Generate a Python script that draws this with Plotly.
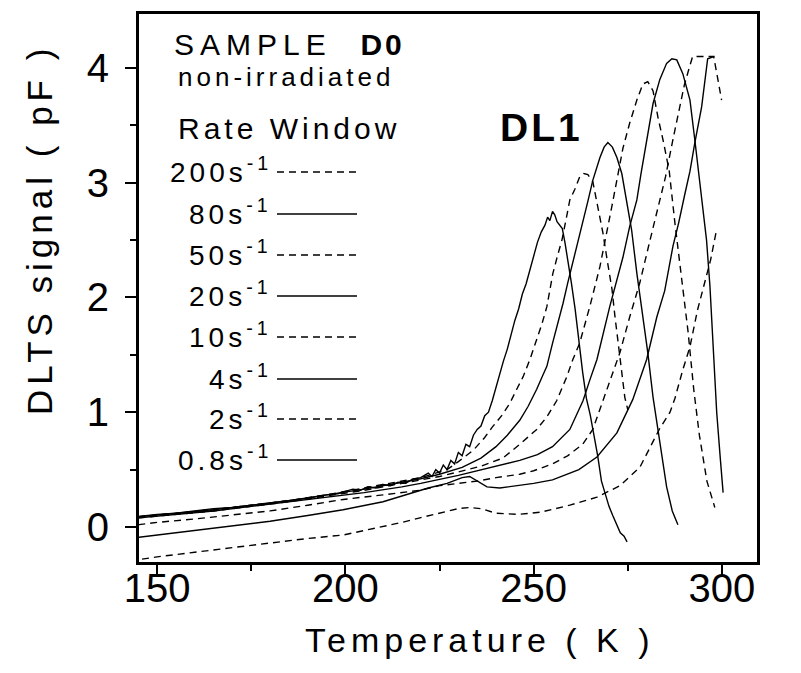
import plotly.graph_objects as go

# ---------------- data ----------------
rate_labels = ["200", "80", "50", "20", "10", "4", "2", "0.8"]
rate_dash = ["dash", "solid", "dash", "solid", "dash", "solid", "dash", "solid"]

T_08 = [145, 150, 155, 160, 165, 170, 175, 180, 185, 190, 195, 198, 200, 202, 204, 206, 208, 210, 212, 214,
        216, 218, 220, 222, 223, 224, 225, 226, 227, 228, 229, 230, 231, 232, 233, 234, 235, 236, 237, 238,
        239, 240, 241, 242, 243, 244, 245, 246, 247, 248, 249, 250, 251, 252, 253, 253.7, 254.3, 255, 255.6,
        256.2, 257, 257.6, 258.3, 259, 260, 261, 262, 263, 264, 265, 266, 267, 268, 269, 270, 271, 272, 273,
        274, 274.8]
V_08 = [0.09, 0.11, 0.12, 0.14, 0.16, 0.17, 0.19, 0.21, 0.23, 0.25, 0.28, 0.29, 0.31, 0.33, 0.32, 0.35, 0.34,
        0.37, 0.36, 0.39, 0.38, 0.42, 0.43, 0.47, 0.44, 0.50, 0.47, 0.54, 0.50, 0.58, 0.55, 0.65, 0.62, 0.72,
        0.70, 0.80, 0.85, 0.88, 0.97, 1.00, 1.10, 1.22, 1.35, 1.45, 1.55, 1.68, 1.80, 1.90, 2.03, 2.12, 2.24,
        2.37, 2.48, 2.57, 2.63, 2.70, 2.67, 2.75, 2.72, 2.66, 2.63, 2.60, 2.48, 2.35, 2.13, 1.90, 1.62, 1.35,
        1.12, 0.98, 0.80, 0.62, 0.40, 0.28, 0.18, 0.10, 0.02, -0.05, -0.08, -0.13]

T_2 = [145, 155, 165, 175, 185, 195, 205, 215, 220, 224, 227, 230, 234, 237, 239, 241.5, 243.7, 245.5, 247.2,
       249, 250.8, 252.2, 253.5, 255.1, 256.3, 257.5, 258.6, 259.6, 260.9, 262.2, 263.3, 264.4, 265.7, 267,
       268.4, 269.4, 270.8, 271.6, 272.9, 274.2, 275]
V_2 = [0.09, 0.12, 0.15, 0.19, 0.23, 0.28, 0.34, 0.40, 0.43, 0.47, 0.50, 0.57, 0.67, 0.78, 0.87, 0.97, 1.08,
       1.20, 1.31, 1.46, 1.63, 1.77, 1.92, 2.21, 2.36, 2.50, 2.68, 2.85, 2.94, 3.05, 3.08, 3.07, 3.01, 2.79,
       2.56, 2.35, 2.07, 1.83, 1.48, 1.13, 1.02]

T_4 = [145, 155, 165, 175, 185, 195, 205, 215, 220, 225, 231, 236, 240, 243, 246.3, 248.5, 250.8, 252.4, 253.5,
       255, 256.5, 257.8, 259, 260.4, 261.8, 263.1, 264.4, 265.7, 266.7, 267.6, 268.7, 269.7, 270.9, 272.1,
       273.4, 274.7, 276, 277.4, 279, 280.3, 281.7, 283.5, 285.3, 286.8, 288.3]
V_4 = [0.09, 0.12, 0.15, 0.19, 0.23, 0.28, 0.33, 0.39, 0.42, 0.46, 0.52, 0.60, 0.70, 0.80, 0.93, 1.05, 1.20,
       1.32, 1.40, 1.60, 1.78, 1.95, 2.12, 2.30, 2.48, 2.65, 2.84, 3.02, 3.13, 3.22, 3.31, 3.35, 3.31, 3.22,
       3.08, 2.82, 2.59, 2.21, 1.83, 1.52, 1.13, 0.76, 0.35, 0.14, 0.02]

T_10 = [145, 155, 165, 175, 185, 195, 205, 215, 220, 225, 230, 236, 241.8, 246.3, 250.8, 253.5, 256.1, 258.8,
        260.4, 262.2, 264.9, 267.6, 270.8, 273.7, 275.5, 277.4, 279, 280.3, 281.7, 283, 284.5, 286, 287.5, 289,
        291, 292.5, 294, 296, 298.1]
V_10 = [0.08, 0.11, 0.14, 0.18, 0.22, 0.27, 0.32, 0.38, 0.41, 0.44, 0.48, 0.53, 0.60, 0.72, 0.85, 0.96, 1.10,
        1.31, 1.46, 1.60, 1.92, 2.27, 2.80, 3.30, 3.52, 3.72, 3.86, 3.88, 3.80, 3.57, 3.35, 3.10, 2.65, 2.22,
        1.70, 1.20, 0.80, 0.40, 0.17]

T_20 = [145, 155, 165, 175, 185, 195, 205, 215, 220, 230, 237.6, 246.3, 251, 255, 259.6, 263.1, 264.9, 266.8,
        270.2, 273.7, 275.5, 277.4, 278.5, 280, 281.7, 283.5, 285.3, 286.7, 288, 289.6, 291.5, 292.8, 294.1,
        295.9, 296.8, 297.7, 298.6, 299.5, 300.3]
V_20 = [0.08, 0.11, 0.14, 0.18, 0.22, 0.26, 0.30, 0.35, 0.38, 0.45, 0.51, 0.58, 0.63, 0.70, 0.85, 1.10, 1.28,
        1.46, 1.92, 2.35, 2.62, 2.85, 3.08, 3.35, 3.69, 3.90, 4.04, 4.08, 4.07, 3.95, 3.72, 3.37, 3.02, 2.50,
        2.10, 1.57, 1.00, 0.62, 0.30]

T_50 = [145, 150, 160, 169.4, 180, 190, 199.4, 210, 219.8, 225, 230, 235, 240, 246.3, 250, 255, 259, 263,
        265.7, 267.6, 270.2, 272.9, 275.5, 278.2, 280.9, 283, 285, 287, 288.5, 290, 291.3, 292.2, 295, 297.8,
        298.8, 299.9]
V_50 = [0.02, 0.04, 0.07, 0.10, 0.14, 0.19, 0.24, 0.28, 0.32, 0.36, 0.38, 0.40, 0.43, 0.46, 0.49, 0.55, 0.62,
        0.72, 0.85, 1.03, 1.28, 1.52, 1.83, 2.13, 2.50, 2.78, 3.05, 3.38, 3.62, 3.85, 4.00, 4.10, 4.10, 4.10,
        3.92, 3.72]

T_80 = [145, 150, 160, 170, 180, 190, 199.4, 210, 216.3, 222, 227, 231, 233, 235, 237.6, 241, 246, 250, 255,
        262, 266.8, 272.1, 276.3, 280, 282.7, 284.8, 287, 288.5, 290, 291.5, 292.8, 294.6, 296.2, 298]
V_80 = [-0.09, -0.07, -0.03, 0.01, 0.05, 0.10, 0.15, 0.22, 0.28, 0.34, 0.38, 0.43, 0.44, 0.40, 0.35, 0.34, 0.36,
        0.38, 0.41, 0.50, 0.61, 0.82, 1.11, 1.46, 1.83, 2.06, 2.45, 2.65, 2.88, 3.10, 3.35, 3.66, 4.08, 4.10]

T_200 = [146, 150, 160, 170, 180, 190, 199.4, 205, 210, 215, 219.8, 225, 230, 233, 236, 240, 246, 252, 259.6,
         266.8, 272.9, 278.2, 281.6, 283.5, 286.2, 287.5, 289.6, 291.5, 293.5, 295.4, 297, 298.5]
V_200 = [-0.28, -0.26, -0.22, -0.18, -0.14, -0.10, -0.07, -0.03, 0.00, 0.04, 0.08, 0.12, 0.16, 0.17, 0.16, 0.12,
         0.11, 0.13, 0.19, 0.26, 0.36, 0.52, 0.73, 0.86, 1.00, 1.12, 1.37, 1.57, 1.89, 2.12, 2.33, 2.58]

series = {
    "200": (T_200, V_200), "80": (T_80, V_80), "50": (T_50, V_50), "20": (T_20, V_20),
    "10": (T_10, V_10), "4": (T_4, V_4), "2": (T_2, V_2), "0.8": (T_08, V_08),
}

x_range = [145.2, 309.3]
y_range = [-0.305, 4.47]

# ---------------- figure ----------------
FONT = "Liberation Sans, Arial, Helvetica, sans-serif"
W, H = 801, 673
L, R, TOP, B = 139, 44, 14, 111
PW, PH = W - L - R, H - TOP - B

def px(xp):
    return (xp - L) / PW

def py(yp):
    return (H - B - yp) / PH

DASH = "7px,5px"

fig = go.Figure()
for lab, ds in zip(rate_labels, rate_dash):
    t, v = series[lab]
    fig.add_trace(go.Scatter(
        x=t, y=v, mode="lines", name=lab + " s-1", showlegend=False,
        line=dict(color="black", width=1.4, dash=DASH if ds == "dash" else "solid"),
    ))

def sp(text, ls):
    return '<span style="letter-spacing:%dpx">%s</span>' % (ls, text)

ann = []
ann.append(dict(text=sp("Temperature ( K )", 5), x=px(480), y=py(640), xref="paper", yref="paper",
                xanchor="center", yanchor="middle", showarrow=False, font=dict(size=34)))
ann.append(dict(text=sp("DLTS signal ( pF )", 5), x=px(40), y=py(230), xref="paper", yref="paper",
                xanchor="center", yanchor="middle", textangle=-90, showarrow=False, font=dict(size=35)))
ann.append(dict(text=sp("SAMPLE  ", 6) + "<b>" + sp("D0", 3) + "</b>", x=px(172), y=py(45),
                xref="paper", yref="paper", xanchor="left", yanchor="middle", showarrow=False,
                font=dict(size=30)))
ann.append(dict(text=sp("non-irradiated", 4), x=px(176), y=py(77), xref="paper", yref="paper",
                xanchor="left", yanchor="middle", showarrow=False, font=dict(size=26)))
ann.append(dict(text=sp("Rate Window", 4), x=px(176), y=py(128), xref="paper", yref="paper",
                xanchor="left", yanchor="middle", showarrow=False, font=dict(size=30)))
ann.append(dict(text="<b>" + sp("DL1", 3) + "</b>", x=px(541), y=py(127), xref="paper", yref="paper",
                xanchor="center", yanchor="middle", showarrow=False, font=dict(size=39)))

row_y = [170, 212, 253, 294, 335, 377, 417, 458]
shapes = []
for lab, ds, ry in zip(rate_labels, rate_dash, row_y):
    ann.append(dict(text=sp(lab + "s<sup>-1</sup>", 4), x=px(274), y=py(ry), xref="paper", yref="paper",
                    xanchor="right", yanchor="middle", showarrow=False, font=dict(size=28)))
    shapes.append(dict(type="line", xref="paper", yref="paper", x0=px(277), x1=px(357),
                       y0=py(ry + 2), y1=py(ry + 2),
                       line=dict(color="black", width=1.4, dash=DASH if ds == "dash" else "solid")))

axis_common = dict(showline=True, mirror=True, linewidth=3, linecolor="black", showgrid=False,
                   zeroline=False, ticks="outside", tickwidth=2, tickcolor="black",
                   tickfont=dict(size=40, color="black", family=FONT))

fig.update_layout(
    width=W, height=H, margin=dict(l=L, r=R, t=TOP, b=B),
    paper_bgcolor="white", plot_bgcolor="white",
    font=dict(family=FONT, color="black"),
    xaxis=dict(range=x_range, tick0=150, dtick=50, ticklen=9, ticklabelstandoff=-20,
               minor=dict(dtick=25, tick0=150, ticks="outside", ticklen=6, tickwidth=2, tickcolor="black"),
               **axis_common),
    yaxis=dict(range=y_range, tick0=0, dtick=1, ticklen=11, ticklabelstandoff=8,
               minor=dict(dtick=0.5, tick0=0, ticks="outside", ticklen=6, tickwidth=2, tickcolor="black"),
               **axis_common),
    annotations=ann, shapes=shapes,
)

fig.write_html("out.html")
